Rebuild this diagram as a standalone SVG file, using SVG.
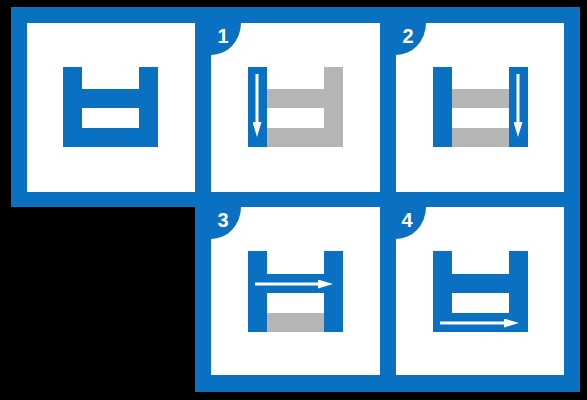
<svg xmlns="http://www.w3.org/2000/svg" width="587" height="400" viewBox="0 0 587 400">
  <style>
    .bg{fill:#000}
    .frame{fill:#0a70c2}
    .panel{fill:#fff}
    .b{fill:#0a70c2}
    .g{fill:#b5b5b5}
    .badge{fill:#0a70c2}
    .num{fill:#fff;font-family:"Liberation Sans",Arial,sans-serif;font-weight:bold;font-size:20px;text-anchor:middle}
    .arrow{stroke:#fff;stroke-width:3;fill:none;marker-end:url(#ah)}
  </style>
  <defs>
    <marker id="ah" markerUnits="userSpaceOnUse" markerWidth="16" markerHeight="9" refX="0" refY="4.5" orient="auto">
      <path d="M0,0 L15,4.5 L0,9 Z" fill="#fff"/>
    </marker>
  </defs>
  <rect class="bg" x="0" y="0" width="587" height="400"/>
  <path class="frame" d="M11,7 H580 V392 H195 V207 H11 Z"/>

  <g id="panel0">
    <rect class="panel" x="27" y="23" width="168" height="169"/>
    <rect class="b" x="63" y="67" width="19" height="80"/>
    <rect class="b" x="139" y="67" width="19" height="80"/>
    <rect class="b" x="82" y="89" width="57" height="19"/>
    <rect class="b" x="82" y="128" width="57" height="19"/>
  </g>

  <g id="panel1">
    <rect class="panel" x="211" y="23" width="169" height="169"/>
    <path class="badge" d="M211,23 H241 A30,32 0 0 1 211,55 Z"/>
    <text class="num" x="223" y="43">1</text>
    <rect class="b" x="248" y="67" width="19" height="80"/>
    <rect class="g" x="324" y="67" width="19" height="80"/>
    <rect class="g" x="267" y="89" width="57" height="19"/>
    <rect class="g" x="267" y="128" width="57" height="19"/>
  </g>

  <g id="panel2">
    <rect class="panel" x="396" y="23" width="168" height="169"/>
    <path class="badge" d="M396,23 H426 A30,32 0 0 1 396,55 Z"/>
    <text class="num" x="408" y="43">2</text>
    <rect class="b" x="433" y="67" width="19" height="80"/>
    <rect class="b" x="509" y="67" width="19" height="80"/>
    <rect class="g" x="452" y="89" width="57" height="19"/>
    <rect class="g" x="452" y="128" width="57" height="19"/>
  </g>

  <g id="panel3">
    <rect class="panel" x="211" y="207" width="169" height="168"/>
    <path class="badge" d="M211,207 H241 A30,32 0 0 1 211,239 Z"/>
    <text class="num" x="223" y="227">3</text>
    <rect class="b" x="248" y="251" width="19" height="81"/>
    <rect class="b" x="324" y="251" width="19" height="81"/>
    <rect class="b" x="267" y="274" width="57" height="19"/>
    <rect class="g" x="267" y="313" width="57" height="19"/>
  </g>

  <g id="panel4">
    <rect class="panel" x="396" y="207" width="168" height="168"/>
    <path class="badge" d="M396,207 H426 A30,32 0 0 1 396,239 Z"/>
    <text class="num" x="407" y="227">4</text>
    <rect class="b" x="433" y="251" width="19" height="81"/>
    <rect class="b" x="509" y="251" width="19" height="81"/>
    <rect class="b" x="452" y="274" width="57" height="19"/>
    <rect class="b" x="452" y="313" width="57" height="19"/>
  </g>

  <g id="connectors">
    <path class="arrow" d="M257,74 V122"/>
    <path class="arrow" d="M518,74 V122"/>
    <path class="arrow" d="M255,284 H318"/>
    <path class="arrow" d="M440,323 H504"/>
  </g>
</svg>
